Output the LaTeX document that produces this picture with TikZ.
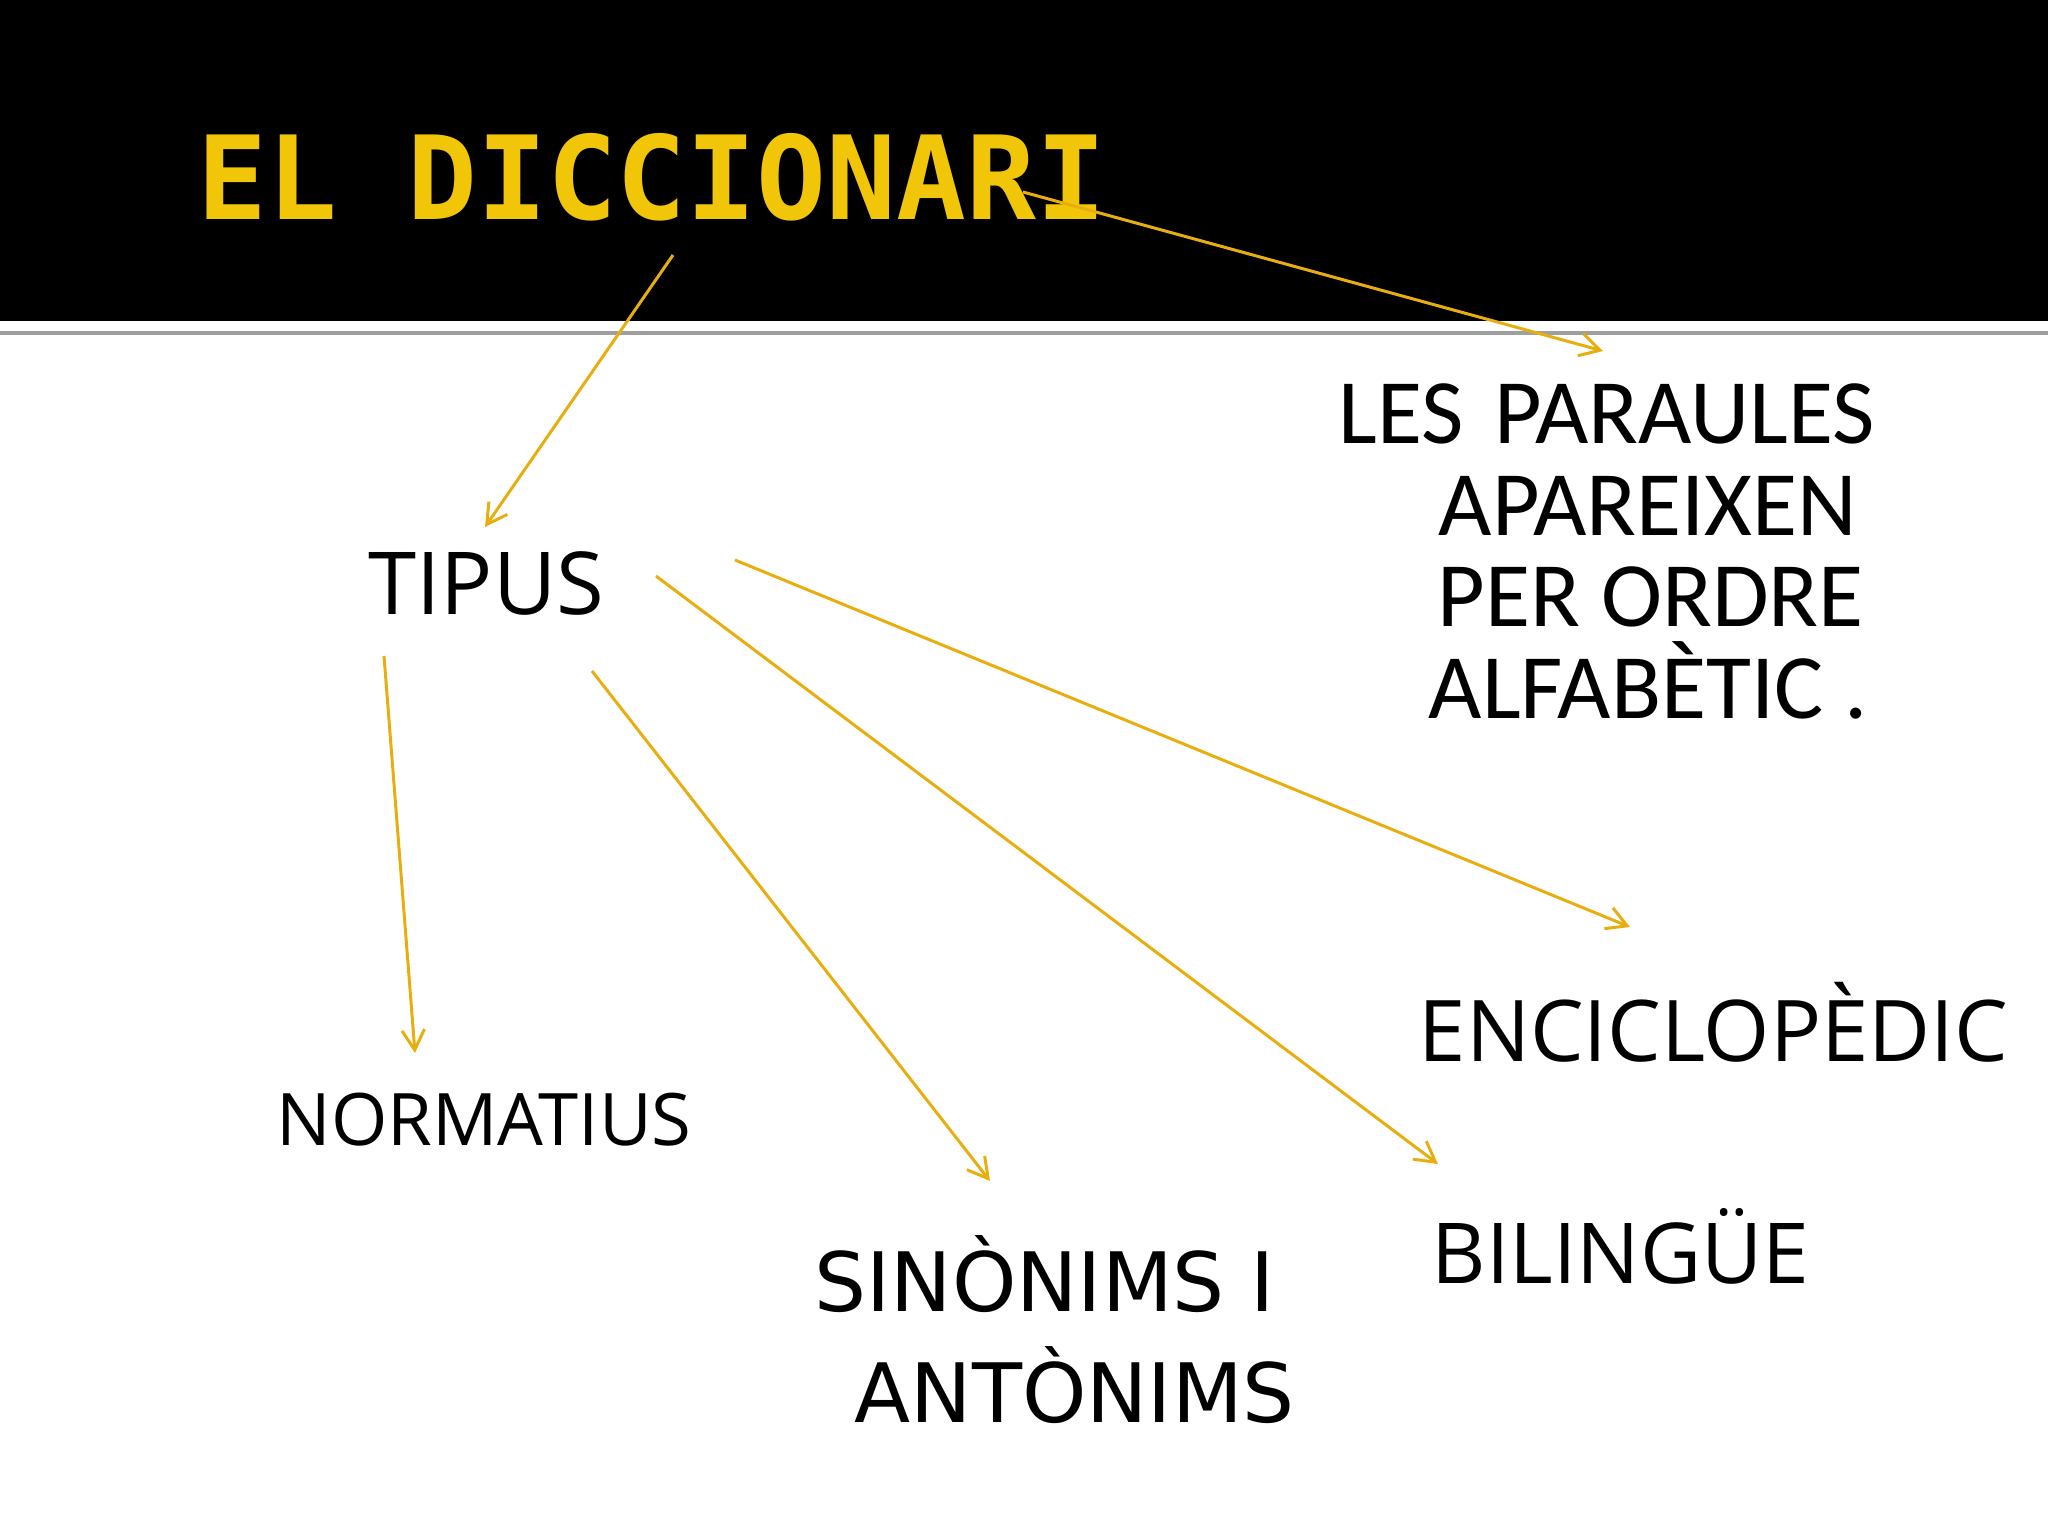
\documentclass[tikz,border=0pt]{standalone}
\usepackage{fontspec}
\setmainfont{Open Sans}
\newfontfamily\paraulesfont{Carlito}
\newfontfamily\sinonimsfont{DejaVu Sans}
\newfontfamily\titolfont{DejaVu Sans Mono}
\usetikzlibrary{arrows.meta}
\definecolor{titolgroc}{RGB}{242,198,8}
\definecolor{fletxa}{RGB}{232,174,16}
\begin{document}
\begin{tikzpicture}[x=0.01cm,y=-0.01cm]
\useasboundingbox (0,0) rectangle (2048,1536);
% banda del titol
\fill[black] (0,0) rectangle (2048,321);
\draw[gray!75, line width=1.2pt] (0,333) -- (2048,333);
\node[anchor=base west, inner sep=0pt, text=titolgroc, font=\titolfont\bfseries\fontsize{33}{36}\selectfont] (titol) at (197,219) {EL DICCIONARI};
% textos
\begin{scope}[every node/.style={anchor=base west, inner sep=0pt, text=black}]
	\node[font=\fontsize{24.7}{30}\selectfont] (tipus) at (368,614) {TIPUS};
	\node[font=\fontsize{20.6}{24}\selectfont] (normatius) at (276,1145) {NORMATIUS};
	\node[font=\sinonimsfont\fontsize{23.3}{31.3}\selectfont, align=left] (sinonims) at (814,1422) {SINÒNIMS I\\\hspace*{0.40cm}ANTÒNIMS};
	\node[font=\fontsize{23.9}{28}\selectfont] (bilingue) at (1431,1283) {BILINGÜE};
	\node[font=\fontsize{24.2}{28}\selectfont] (enciclopedic) at (1418,1061) {ENCICLOPÈDIC};
	\node[font=\paraulesfont\fontsize{26.2}{26}\selectfont, align=left] (paraules) at (1338,718) {LES\hspace{0.1cm} PARAULES\\\hspace*{1.0cm}APAREIXEN\\\hspace*{0.99cm}PER ORDRE\\\hspace*{0.9cm}ALFABÈTIC .};
\end{scope}
% extrems de les fletxes
\coordinate (titol-a) at (673,255);
\coordinate (titol-b) at (1023,192);
\coordinate (tipus-in) at (485,527);
\coordinate (paraules-in) at (1603,351);
\coordinate (tipus-a) at (384,656);
\coordinate (tipus-b) at (592,671);
\coordinate (tipus-c) at (656,576);
\coordinate (tipus-d) at (735,560);
\coordinate (normatius-in) at (415,1053);
\coordinate (sinonims-in) at (990,1181);
\coordinate (bilingue-in) at (1438,1164);
\coordinate (enciclopedic-in) at (1630,927);
\begin{scope}[every edge/.style={draw=fletxa, line width=0.85pt, -{Straight Barb[length=5.7pt,width=6.4pt]}}]
	\path (titol-a) edge (tipus-in);
	\path (titol-b) edge (paraules-in);
	\path (tipus-a) edge (normatius-in);
	\path (tipus-b) edge (sinonims-in);
	\path (tipus-c) edge (bilingue-in);
	\path (tipus-d) edge (enciclopedic-in);
\end{scope}
\end{tikzpicture}
\end{document}
